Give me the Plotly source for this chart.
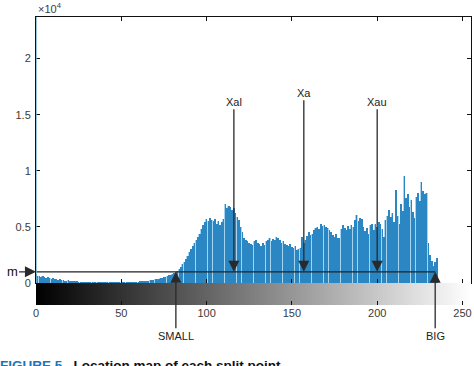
import plotly.graph_objects as go

# ---------------- data ----------------
gray_levels = list(range(256))
counts = (
    # 0-29
    [800, 650, 600, 560, 620, 500, 480, 540, 450, 400, 420, 350, 380, 300, 320,
     260, 280, 220, 200, 230, 160, 150, 120, 130, 90, 80, 60, 50, 40, 30]
    # 30-59
    + [25, 20, 20, 15, 20, 15, 10, 15, 10, 10, 15, 10, 10, 15, 20,
       15, 20, 25, 20, 30, 25, 35, 30, 40, 45, 40, 55, 50, 60, 70]
    # 60-82
    + [80, 100, 110, 140, 150, 180, 200, 230, 260, 280, 320, 350, 380, 420, 460,
       500, 560, 620, 680, 740, 820, 900, 980]
    # 83-98
    + [1100, 1250, 1450, 1650, 1900, 2150, 2450, 2750, 3000, 3300, 3550, 3850,
       4100, 4400, 4800, 5200]
    # 99-110
    + [5400, 5700, 5500, 5800, 5600, 5500, 5700, 5300, 5500, 5200, 5400, 5700]
    # 111-121
    + [7000, 6700, 6900, 6800, 6500, 6700, 6200, 5900, 5600, 5000, 4500]
    # 122-155
    + [4000, 3800, 3700, 3600, 3500, 3400, 3700, 3800, 3600, 3500, 3300, 3600,
       3400, 3700, 3800, 4000, 3700, 3900, 3800, 4100, 4000, 3800, 3600, 3700,
       3500, 3400, 3300, 3500, 3200, 3100, 3300, 2900, 3000, 3100]
    # 156-177
    + [4100, 3600, 3800, 4200, 4500, 4300, 4400, 4700, 4900, 5000, 4800, 5300,
       5100, 5200, 5000, 4900, 4700, 4500, 4300, 4100, 4400, 4000]
    # 178-199
    + [4000, 4800, 5200, 4900, 4700, 5100, 4800, 5200, 5000, 5600, 6100, 5500,
       5800, 5700, 5000, 4600, 4900, 4400, 5200, 5300, 4700, 5300]
    # 200-229
    + [5000, 5400, 5300, 4800, 4100, 5600, 6000, 6500, 5900, 6200, 5400, 8300,
       6000, 5300, 7000, 6400, 9500, 7600, 7900, 6800, 7400, 6300, 5800, 7700,
       8000, 7300, 9000, 8200, 7900, 8000]
    # 230-255
    + [3600, 2500, 2000, 1500, 1900, 2200] + [0] * 20
)
assert len(counts) == 256

y_tick_vals = [0, 5000, 10000, 15000, 20000]
y_tick_text = ["0", "0.5", "1", "1.5", "2"]
x_tick_vals = [0, 50, 100, 150, 200, 250]
x_tick_text = ["0", "50", "100", "150", "200", "250"]

m_level = 1000
split_names = ["Xal", "Xa", "Xau"]
split_points = [116, 157, 200]
bound_names = ["SMALL", "BIG"]
bound_points = [82, 234]

caption_label = "FIGURE 5."
caption_text = "Location map of each split point"

# ---------------- figure ----------------
fig = go.Figure()

# light fill bars (anti-aliased look) and darker stems
fig.add_trace(go.Bar(x=gray_levels, y=counts, width=1.0,
                     marker=dict(color="#a6d4ee", line=dict(width=0)),
                     xaxis="x", yaxis="y", hoverinfo="skip"))
fig.add_trace(go.Bar(x=gray_levels, y=counts, width=0.3,
                     marker=dict(color="#2b86c4", line=dict(width=0)),
                     xaxis="x", yaxis="y", hoverinfo="skip"))

# m level line from 0 to BIG
fig.add_trace(go.Scatter(x=[0, bound_points[1]], y=[m_level, m_level],
                         mode="lines", line=dict(color="#222222", width=1.2),
                         xaxis="x", yaxis="y", hoverinfo="skip"))

# gray-level gradient strip
fig.add_trace(go.Heatmap(x=gray_levels, y=[0], z=[gray_levels],
                         colorscale=[[0, "#000000"], [1, "#ffffff"]],
                         zmin=0, zmax=255, showscale=False,
                         xaxis="x2", yaxis="y2", hoverinfo="skip"))

tick_font = dict(family="Liberation Sans, Arial, sans-serif", size=11, color="#3a3a3a")
strip_frac = 22 / 288

fig.update_layout(
    width=474, height=366,
    margin=dict(l=36, r=3, t=17, b=61, autoexpand=False),
    paper_bgcolor="white", plot_bgcolor="white",
    showlegend=False, barmode="overlay", bargap=0,
    xaxis=dict(domain=[0, 1], range=[0, 255], anchor="y", automargin=False,
               showline=True, linecolor="#111111", linewidth=1, mirror="ticks",
               ticks="inside", ticklen=4, tickcolor="#111111",
               tickvals=x_tick_vals, showticklabels=False,
               showgrid=False, zeroline=False),
    yaxis=dict(domain=[strip_frac, 1], range=[0, 23700], anchor="x", automargin=False,
               showline=True, linecolor="#111111", linewidth=1, mirror="ticks",
               ticks="inside", ticklen=4, tickcolor="#111111",
               tickvals=y_tick_vals, ticktext=y_tick_text, tickfont=tick_font,
               ticklabelstandoff=2,
               showgrid=False, zeroline=False),
    xaxis2=dict(domain=[0, 1], range=[0, 255], anchor="y2", automargin=False,
                showline=False, ticks="inside", ticklen=4, tickcolor="#111111",
                tickvals=x_tick_vals, ticktext=x_tick_text, tickfont=tick_font,
                showgrid=False, zeroline=False),
    yaxis2=dict(domain=[0, strip_frac], range=[-0.5, 0.5], anchor="x2", automargin=False,
                showline=False, showticklabels=False, ticks="",
                showgrid=False, zeroline=False),
)

# blue-ish left spine as in the reference
fig.add_shape(type="line", xref="x", yref="y domain", x0=0, x1=0, y0=0, y1=1,
              line=dict(color="#78b2cf", width=1.5))

# exponent label
fig.add_annotation(xref="paper", yref="paper", x=0.0, y=1.0, xanchor="left",
                   yanchor="bottom", showarrow=False,
                   text="×10<sup>4</sup>", font=tick_font)

arrow_font = dict(family="Liberation Sans, Arial, sans-serif", size=11, color="#222222")
arrow_style = dict(showarrow=True, arrowhead=2, arrowsize=1.7, arrowwidth=1.3,
                   arrowcolor="#2a2a2a")

# m arrow
fig.add_annotation(x=0, y=m_level, xref="x", yref="y", ax=-24, ay=0,
                   text="m", font=dict(family="Liberation Sans, Arial, sans-serif",
                                       size=13, color="#111111"), **arrow_style)

# split points (arrows downward to the m line)
tail_offsets = [-170, -179, -170]
for name, xv, off in zip(split_names, split_points, tail_offsets):
    fig.add_annotation(x=xv, y=m_level, xref="x", yref="y", ax=0, ay=off,
                       text=name, font=arrow_font, **arrow_style)

# SMALL / BIG (arrows upward to the m line)
for name, xv in zip(bound_names, bound_points):
    fig.add_annotation(x=xv, y=m_level, xref="x", yref="y", ax=0, ay=64,
                       text=name, font=arrow_font, **arrow_style)

# caption (partially cut at bottom as in reference)
fig.add_annotation(xref="paper", yref="paper", x=-38 / 435, y=-(356 - 305) / 288,
                   xanchor="left", yanchor="top", showarrow=False,
                   text=f"<b><span style='color:#1b75bc'>{caption_label}</span>"
                        f"  {caption_text}</b>",
                   font=dict(family="Liberation Sans, Arial, sans-serif",
                             size=13.5, color="#111111"))

fig.write_html(
    "out.html",
    config={"displayModeBar": False},
    post_script="document.body.style.margin='0';document.body.style.overflow='hidden';",
)
